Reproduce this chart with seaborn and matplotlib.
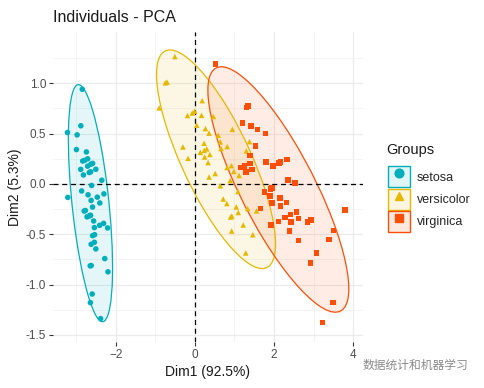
import numpy as np
import pandas as pd
import seaborn as sns
import matplotlib.pyplot as plt
from matplotlib.patches import Ellipse, Patch
from matplotlib.lines import Line2D
from matplotlib.legend_handler import HandlerTuple

# Fisher's iris measurements (the data behind this PCA)
sepal_length = [
    5.1, 4.9, 4.7, 4.6, 5.0, 5.4, 4.6, 5.0, 4.4, 4.9, 5.4, 4.8, 4.8, 4.3, 5.8, 5.7, 5.4, 5.1, 5.7, 5.1,
    5.4, 5.1, 4.6, 5.1, 4.8, 5.0, 5.0, 5.2, 5.2, 4.7, 4.8, 5.4, 5.2, 5.5, 4.9, 5.0, 5.5, 4.9, 4.4, 5.1,
    5.0, 4.5, 4.4, 5.0, 5.1, 4.8, 5.1, 4.6, 5.3, 5.0,
    7.0, 6.4, 6.9, 5.5, 6.5, 5.7, 6.3, 4.9, 6.6, 5.2, 5.0, 5.9, 6.0, 6.1, 5.6, 6.7, 5.6, 5.8, 6.2, 5.6,
    5.9, 6.1, 6.3, 6.1, 6.4, 6.6, 6.8, 6.7, 6.0, 5.7, 5.5, 5.5, 5.8, 6.0, 5.4, 6.0, 6.7, 6.3, 5.6, 5.5,
    5.5, 6.1, 5.8, 5.0, 5.6, 5.7, 5.7, 6.2, 5.1, 5.7,
    6.3, 5.8, 7.1, 6.3, 6.5, 7.6, 4.9, 7.3, 6.7, 7.2, 6.5, 6.4, 6.8, 5.7, 5.8, 6.4, 6.5, 7.7, 7.7, 6.0,
    6.9, 5.6, 7.7, 6.3, 6.7, 7.2, 6.2, 6.1, 6.4, 7.2, 7.4, 7.9, 6.4, 6.3, 6.1, 7.7, 6.3, 6.4, 6.0, 6.9,
    6.7, 6.9, 5.8, 6.8, 6.7, 6.7, 6.3, 6.5, 6.2, 5.9]
sepal_width = [
    3.5, 3.0, 3.2, 3.1, 3.6, 3.9, 3.4, 3.4, 2.9, 3.1, 3.7, 3.4, 3.0, 3.0, 4.0, 4.4, 3.9, 3.5, 3.8, 3.8,
    3.4, 3.7, 3.6, 3.3, 3.4, 3.0, 3.4, 3.5, 3.4, 3.2, 3.1, 3.4, 4.1, 4.2, 3.1, 3.2, 3.5, 3.6, 3.0, 3.4,
    3.5, 2.3, 3.2, 3.5, 3.8, 3.0, 3.8, 3.2, 3.7, 3.3,
    3.2, 3.2, 3.1, 2.3, 2.8, 2.8, 3.3, 2.4, 2.9, 2.7, 2.0, 3.0, 2.2, 2.9, 2.9, 3.1, 3.0, 2.7, 2.2, 2.5,
    3.2, 2.8, 2.5, 2.8, 2.9, 3.0, 2.8, 3.0, 2.9, 2.6, 2.4, 2.4, 2.7, 2.7, 3.0, 3.4, 3.1, 2.3, 3.0, 2.5,
    2.6, 3.0, 2.6, 2.3, 2.7, 3.0, 2.9, 2.9, 2.5, 2.8,
    3.3, 2.7, 3.0, 2.9, 3.0, 3.0, 2.5, 2.9, 2.5, 3.6, 3.2, 2.7, 3.0, 2.5, 2.8, 3.2, 3.0, 3.8, 2.6, 2.2,
    3.2, 2.8, 2.8, 2.7, 3.3, 3.2, 2.8, 3.0, 2.8, 3.0, 2.8, 3.8, 2.8, 2.8, 2.6, 3.0, 3.4, 3.1, 3.0, 3.1,
    3.1, 3.1, 2.7, 3.2, 3.3, 3.0, 2.5, 3.0, 3.4, 3.0]
petal_length = [
    1.4, 1.4, 1.3, 1.5, 1.4, 1.7, 1.4, 1.5, 1.4, 1.5, 1.5, 1.6, 1.4, 1.1, 1.2, 1.5, 1.3, 1.4, 1.7, 1.5,
    1.7, 1.5, 1.0, 1.7, 1.9, 1.6, 1.6, 1.5, 1.4, 1.6, 1.6, 1.5, 1.5, 1.4, 1.5, 1.2, 1.3, 1.4, 1.3, 1.5,
    1.3, 1.3, 1.3, 1.6, 1.9, 1.4, 1.6, 1.4, 1.5, 1.4,
    4.7, 4.5, 4.9, 4.0, 4.6, 4.5, 4.7, 3.3, 4.6, 3.9, 3.5, 4.2, 4.0, 4.7, 3.6, 4.4, 4.5, 4.1, 4.5, 3.9,
    4.8, 4.0, 4.9, 4.7, 4.3, 4.4, 4.8, 5.0, 4.5, 3.5, 3.8, 3.7, 3.9, 5.1, 4.5, 4.5, 4.7, 4.4, 4.1, 4.0,
    4.4, 4.6, 4.0, 3.3, 4.2, 4.2, 4.2, 4.3, 3.0, 4.1,
    6.0, 5.1, 5.9, 5.6, 5.8, 6.6, 4.5, 6.3, 5.8, 6.1, 5.1, 5.3, 5.5, 5.0, 5.1, 5.3, 5.5, 6.7, 6.9, 5.0,
    5.7, 4.9, 6.7, 4.9, 5.7, 6.0, 4.8, 4.9, 5.6, 5.8, 6.1, 6.4, 5.6, 5.1, 5.6, 6.1, 5.6, 5.5, 4.8, 5.4,
    5.6, 5.1, 5.1, 5.9, 5.7, 5.2, 5.0, 5.2, 5.4, 5.1]
petal_width = [
    0.2, 0.2, 0.2, 0.2, 0.2, 0.4, 0.3, 0.2, 0.2, 0.1, 0.2, 0.2, 0.1, 0.1, 0.2, 0.4, 0.4, 0.3, 0.3, 0.3,
    0.2, 0.4, 0.2, 0.5, 0.2, 0.2, 0.4, 0.2, 0.2, 0.2, 0.2, 0.4, 0.1, 0.2, 0.2, 0.2, 0.2, 0.1, 0.2, 0.2,
    0.3, 0.3, 0.2, 0.6, 0.4, 0.3, 0.2, 0.2, 0.2, 0.2,
    1.4, 1.5, 1.5, 1.3, 1.5, 1.3, 1.6, 1.0, 1.3, 1.4, 1.0, 1.5, 1.0, 1.4, 1.3, 1.4, 1.5, 1.0, 1.5, 1.1,
    1.8, 1.3, 1.5, 1.2, 1.3, 1.4, 1.4, 1.7, 1.5, 1.0, 1.1, 1.0, 1.2, 1.6, 1.5, 1.6, 1.5, 1.3, 1.3, 1.3,
    1.2, 1.4, 1.2, 1.0, 1.3, 1.2, 1.3, 1.3, 1.1, 1.3,
    2.5, 1.9, 2.1, 1.8, 2.2, 2.1, 1.7, 1.8, 1.8, 2.5, 2.0, 1.9, 2.1, 2.0, 2.4, 2.3, 1.8, 2.2, 2.3, 1.5,
    2.3, 2.0, 2.0, 1.8, 2.1, 1.8, 1.8, 1.8, 2.1, 1.6, 1.9, 2.0, 2.2, 1.5, 1.4, 2.3, 2.4, 1.8, 1.8, 2.1,
    2.4, 2.3, 1.9, 2.3, 2.5, 2.3, 1.9, 2.0, 2.3, 1.8]
groups = ['setosa', 'versicolor', 'virginica']
species = [g for g in groups for _ in range(50)]

colors = {'setosa': '#00AFBB', 'versicolor': '#E7B800', 'virginica': '#FC4E07'}
markers = {'setosa': 'o', 'versicolor': '^', 'virginica': 's'}

# PCA on the centred (unscaled) measurements
X = np.column_stack([sepal_length, sepal_width, petal_length, petal_width])
Xc = X - X.mean(axis=0)
U, S, Vt = np.linalg.svd(Xc, full_matrices=False)
if Vt[0, 2] < 0:
    Vt[0] = -Vt[0]
if Vt[1, 1] > 0:
    Vt[1] = -Vt[1]
scores = Xc @ Vt[:2].T
explained = S ** 2 / np.sum(S ** 2) * 100

df = pd.DataFrame({'Dim1': scores[:, 0], 'Dim2': scores[:, 1], 'Groups': species})

sns.set_theme(style='white')
plt.rcParams['font.family'] = ['Liberation Sans', 'DejaVu Sans']

fig = plt.figure(figsize=(4.85, 3.88), dpi=100)
ax = fig.add_axes([53 / 485, 1 - 342 / 388, 310 / 485, 310 / 388])

# 95% normal-theory ellipses (like stat_ellipse(type = "norm"))
radius = np.sqrt(2 * 3.187)
for g in groups:
    pts = df.loc[df['Groups'] == g, ['Dim1', 'Dim2']].to_numpy()
    cov = np.cov(pts, rowvar=False)
    vals, vecs = np.linalg.eigh(cov)
    angle = np.degrees(np.arctan2(vecs[1, 1], vecs[0, 1]))
    w, h = 2 * radius * np.sqrt(vals[1]), 2 * radius * np.sqrt(vals[0])
    ax.add_patch(Ellipse(pts.mean(axis=0), w, h, angle=angle, facecolor=colors[g],
                         alpha=0.1, edgecolor='none', zorder=1))
    ax.add_patch(Ellipse(pts.mean(axis=0), w, h, angle=angle, facecolor='none',
                         edgecolor=colors[g], lw=0.9, zorder=2))

sns.scatterplot(data=df, x='Dim1', y='Dim2', hue='Groups', style='Groups',
                palette=colors, markers=markers, s=16, linewidth=0,
                legend=False, ax=ax, zorder=3)

ax.axhline(0, color='black', ls=(0, (4, 3)), lw=0.9, zorder=2.5)
ax.axvline(0, color='black', ls=(0, (4, 3)), lw=0.9, zorder=2.5)

ax.set_xlim(-3.59, 4.25)
ax.set_ylim(-1.57, 1.51)
ax.set_xticks([-2, 0, 2, 4])
ax.set_xticks([-3, -1, 1, 3], minor=True)
ax.set_yticks([-1.5, -1.0, -0.5, 0.0, 0.5, 1.0])
ax.set_yticks([-1.25, -0.75, -0.25, 0.25, 0.75, 1.25], minor=True)
ax.set_yticklabels(['-1.5', '-1.0', '-0.5', '0.0', '0.5', '1.0'])
ax.grid(True, which='major', color='#EBEBEB', lw=0.9)
ax.grid(True, which='minor', color='#F3F3F3', lw=0.6)
ax.set_axisbelow(True)
for sp in ax.spines.values():
    sp.set_visible(False)
ax.tick_params(which='major', length=3, width=0.8, color='#333333',
               labelcolor='#4D4D4D', labelsize=8.5, pad=2, bottom=True, left=True)
ax.tick_params(which='minor', length=0)

ax.set_xlabel(f'Dim1 ({explained[0]:.1f}%)', fontsize=10, color='#1A1A1A', labelpad=3)
ax.set_ylabel(f'Dim2 ({explained[1]:.1f}%)', fontsize=10, color='#1A1A1A', labelpad=3)
fig.text(53 / 485, 1 - 22 / 388, 'Individuals - PCA', fontsize=11.5, color='#1A1A1A',
         ha='left', va='baseline')

# legend: title drawn separately so the gap to the keys can be set freely
fig.text(386 / 485, 1 - 150 / 388, 'Groups', fontsize=10.5, color='#1A1A1A',
         ha='left', va='center')
handles = [(Patch(facecolor=colors[g], alpha=0.12, edgecolor='none'),
            Patch(facecolor='none', edgecolor=colors[g], lw=1.0),
            Line2D([], [], marker=markers[g], color=colors[g], ls='none', markersize=6.3))
           for g in groups]
fig.legend(handles, groups, loc='upper left',
           bbox_to_anchor=(372 / 485, 1 - 150 / 388), frameon=False,
           handler_map={tuple: HandlerTuple(ndivide=1)},
           fontsize=9, handlelength=1.75, handleheight=2.21,
           labelspacing=0.1, handletextpad=0.55, borderpad=0.8)

fig.text(468 / 485, 1 - 365 / 388, '数据统计和机器学习', fontsize=8.5, color='#8A8A8A',
         ha='right', va='center', family=['Noto Sans CJK SC', 'DejaVu Sans'])

fig.savefig('out.png', dpi=100, facecolor='white')
